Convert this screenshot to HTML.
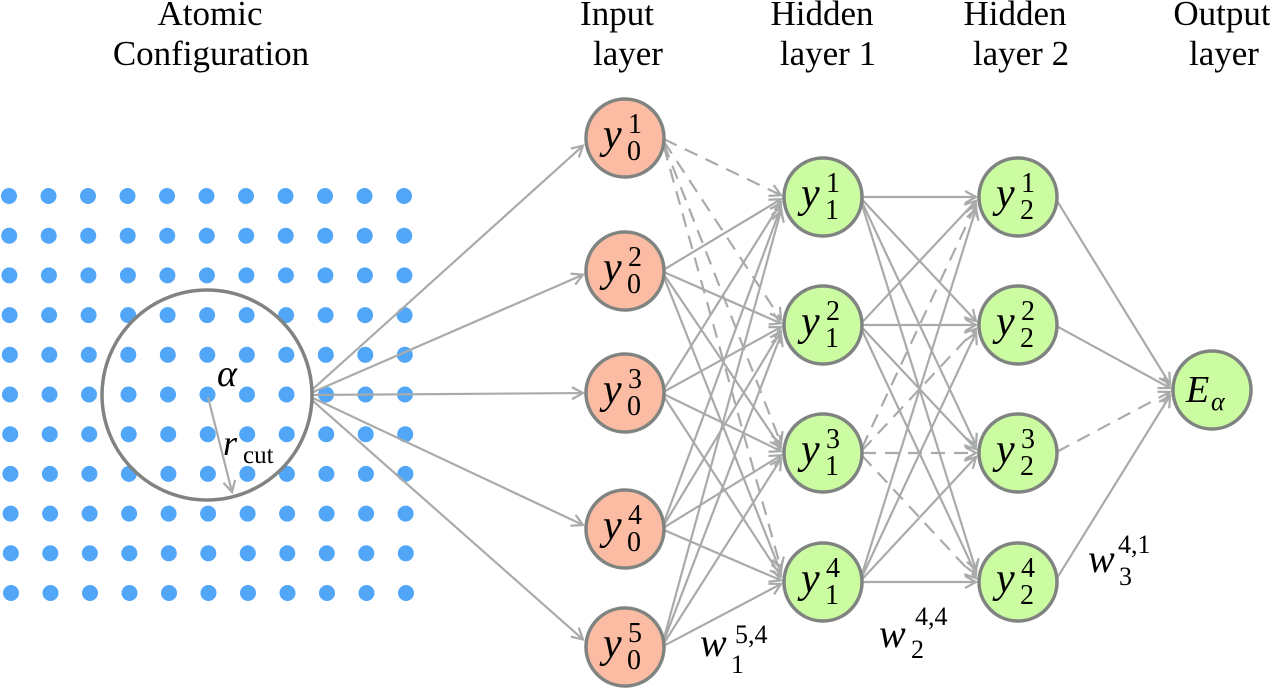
<!DOCTYPE html>
<html><head><meta charset="utf-8"><style>
html,body{margin:0;padding:0;background:#fff;}
svg{display:block;}
text{font-family:"Liberation Serif",serif;fill:#000;}
.m{font-style:italic;}
</style></head><body>
<svg id="s" width="1270" height="688" viewBox="0 0 1270 688" xmlns="http://www.w3.org/2000/svg">
<defs>
<marker id="ar" markerWidth="16" markerHeight="16" refX="13" refY="8" orient="auto" markerUnits="userSpaceOnUse">
<path d="M2,2 L13,8 L2,14" fill="none" stroke="#a9abab" stroke-width="2.2"/>
</marker>
</defs>
<g id="dots" fill="#52a6f8"></g>
<g id="edges" stroke="#a9abab" stroke-width="2.2" fill="none"></g>
<circle cx="207" cy="395" r="105" fill="none" stroke="#808481" stroke-width="3.5"/>
<g id="nodes" stroke="#808481" stroke-width="3.5"></g>
<g id="labels"></g>
<text x="210" y="25" font-size="35" text-anchor="middle">Atomic</text>
<text x="211" y="65" font-size="35" text-anchor="middle">Configuration</text>
<text x="617" y="25" font-size="35" text-anchor="middle">Input</text>
<text x="628" y="65" font-size="35" text-anchor="middle">layer</text>
<text x="822" y="25" font-size="35" text-anchor="middle">Hidden</text>
<text x="828" y="65" font-size="35" text-anchor="middle">layer 1</text>
<text x="1015" y="25" font-size="35" text-anchor="middle">Hidden</text>
<text x="1021" y="65" font-size="35" text-anchor="middle">layer 2</text>
<text x="1222" y="25" font-size="35" text-anchor="middle">Output</text>
<text x="1224" y="65" font-size="35" text-anchor="middle">layer</text>
<text x="217" y="386" font-size="38" class="m">α</text>
<text x="223" y="455" font-size="36" class="m">r</text><text x="243" y="463" font-size="25">cut</text>
<line x1="208" y1="397" x2="232" y2="492" stroke="#a9abab" stroke-width="2.2" marker-end="url(#ar)"/>
<text x="700" y="656" font-size="40" class="m">w</text><text x="731" y="673" font-size="26">1</text><text x="735" y="643" font-size="26">5,4</text>
<text x="879" y="647" font-size="40" class="m">w</text><text x="911" y="658" font-size="26">2</text><text x="915" y="625" font-size="26">4,4</text>
<text x="1088" y="572" font-size="40" class="m">w</text><text x="1119" y="585" font-size="26">3</text><text x="1118" y="553" font-size="26">4,1</text>
</svg>
<script>
const NS="http://www.w3.org/2000/svg";
function el(t,a,p){const e=document.createElementNS(NS,t);for(const k in a)e.setAttribute(k,a[k]);document.getElementById(p).appendChild(e);return e;}
for(let r=0;r<11;r++)for(let c=0;c<11;c++){el("circle",{cx:9+c*39.5+r*0.2,cy:196+r*39.7,r:8},"dots");}
const L0=[[625,138],[625,271],[625,393],[625,529],[625,647]];
const L1=[[823,197],[823,325],[823,453],[823,582]];
const L2=[[1018,197],[1018,325],[1018,453],[1018,582]];
const L3=[[1212,390]];
const R=39;
function edge(a,b,ra,rb,dash){
const sx=a[0]+ra, sy=a[1]+(b[1]-a[1])*0.02;
const tx=b[0]-rb-3, ty=b[1]-(b[1]-a[1])*0.03;
const o={x1:sx,y1:sy,x2:tx,y2:ty,"marker-end":"url(#ar)"};
if(dash)o["stroke-dasharray"]="14,9";el("line",o,"edges");}
L0.forEach(n=>edge([312,395],n,0,R,false));
L0.forEach((a,i)=>L1.forEach(b=>edge(a,b,R,R,i==0)));
L1.forEach((a,i)=>L2.forEach(b=>edge(a,b,R,R,i==2)));
L2.forEach((a,i)=>edge(a,L3[0],R,R,i==2));
function node(p,fill,sub,sup){el("circle",{cx:p[0],cy:p[1],r:R,fill:fill},"nodes");
const t=el("text",{x:p[0]-22,y:p[1]+10,"font-size":42,class:"m"},"labels");t.textContent="y";
const s=el("text",{x:p[0]+2,y:p[1]+22,"font-size":28},"labels");s.textContent=sub;
const u=el("text",{x:p[0]+3,y:p[1]-5,"font-size":28},"labels");u.textContent=sup;}
L0.forEach((p,i)=>node(p,"#fbbca3","0",""+(i+1)));
L1.forEach((p,i)=>node(p,"#ccfca1","1",""+(i+1)));
L2.forEach((p,i)=>node(p,"#ccfca1","2",""+(i+1)));
el("circle",{cx:1212,cy:390,r:R,fill:"#ccfca1"},"nodes");
const e=el("text",{x:1186,y:402,"font-size":38,class:"m"},"labels");e.textContent="E";
const ea=el("text",{x:1211,y:410,"font-size":26,class:"m"},"labels");ea.textContent="α";
</script>
</body></html>
